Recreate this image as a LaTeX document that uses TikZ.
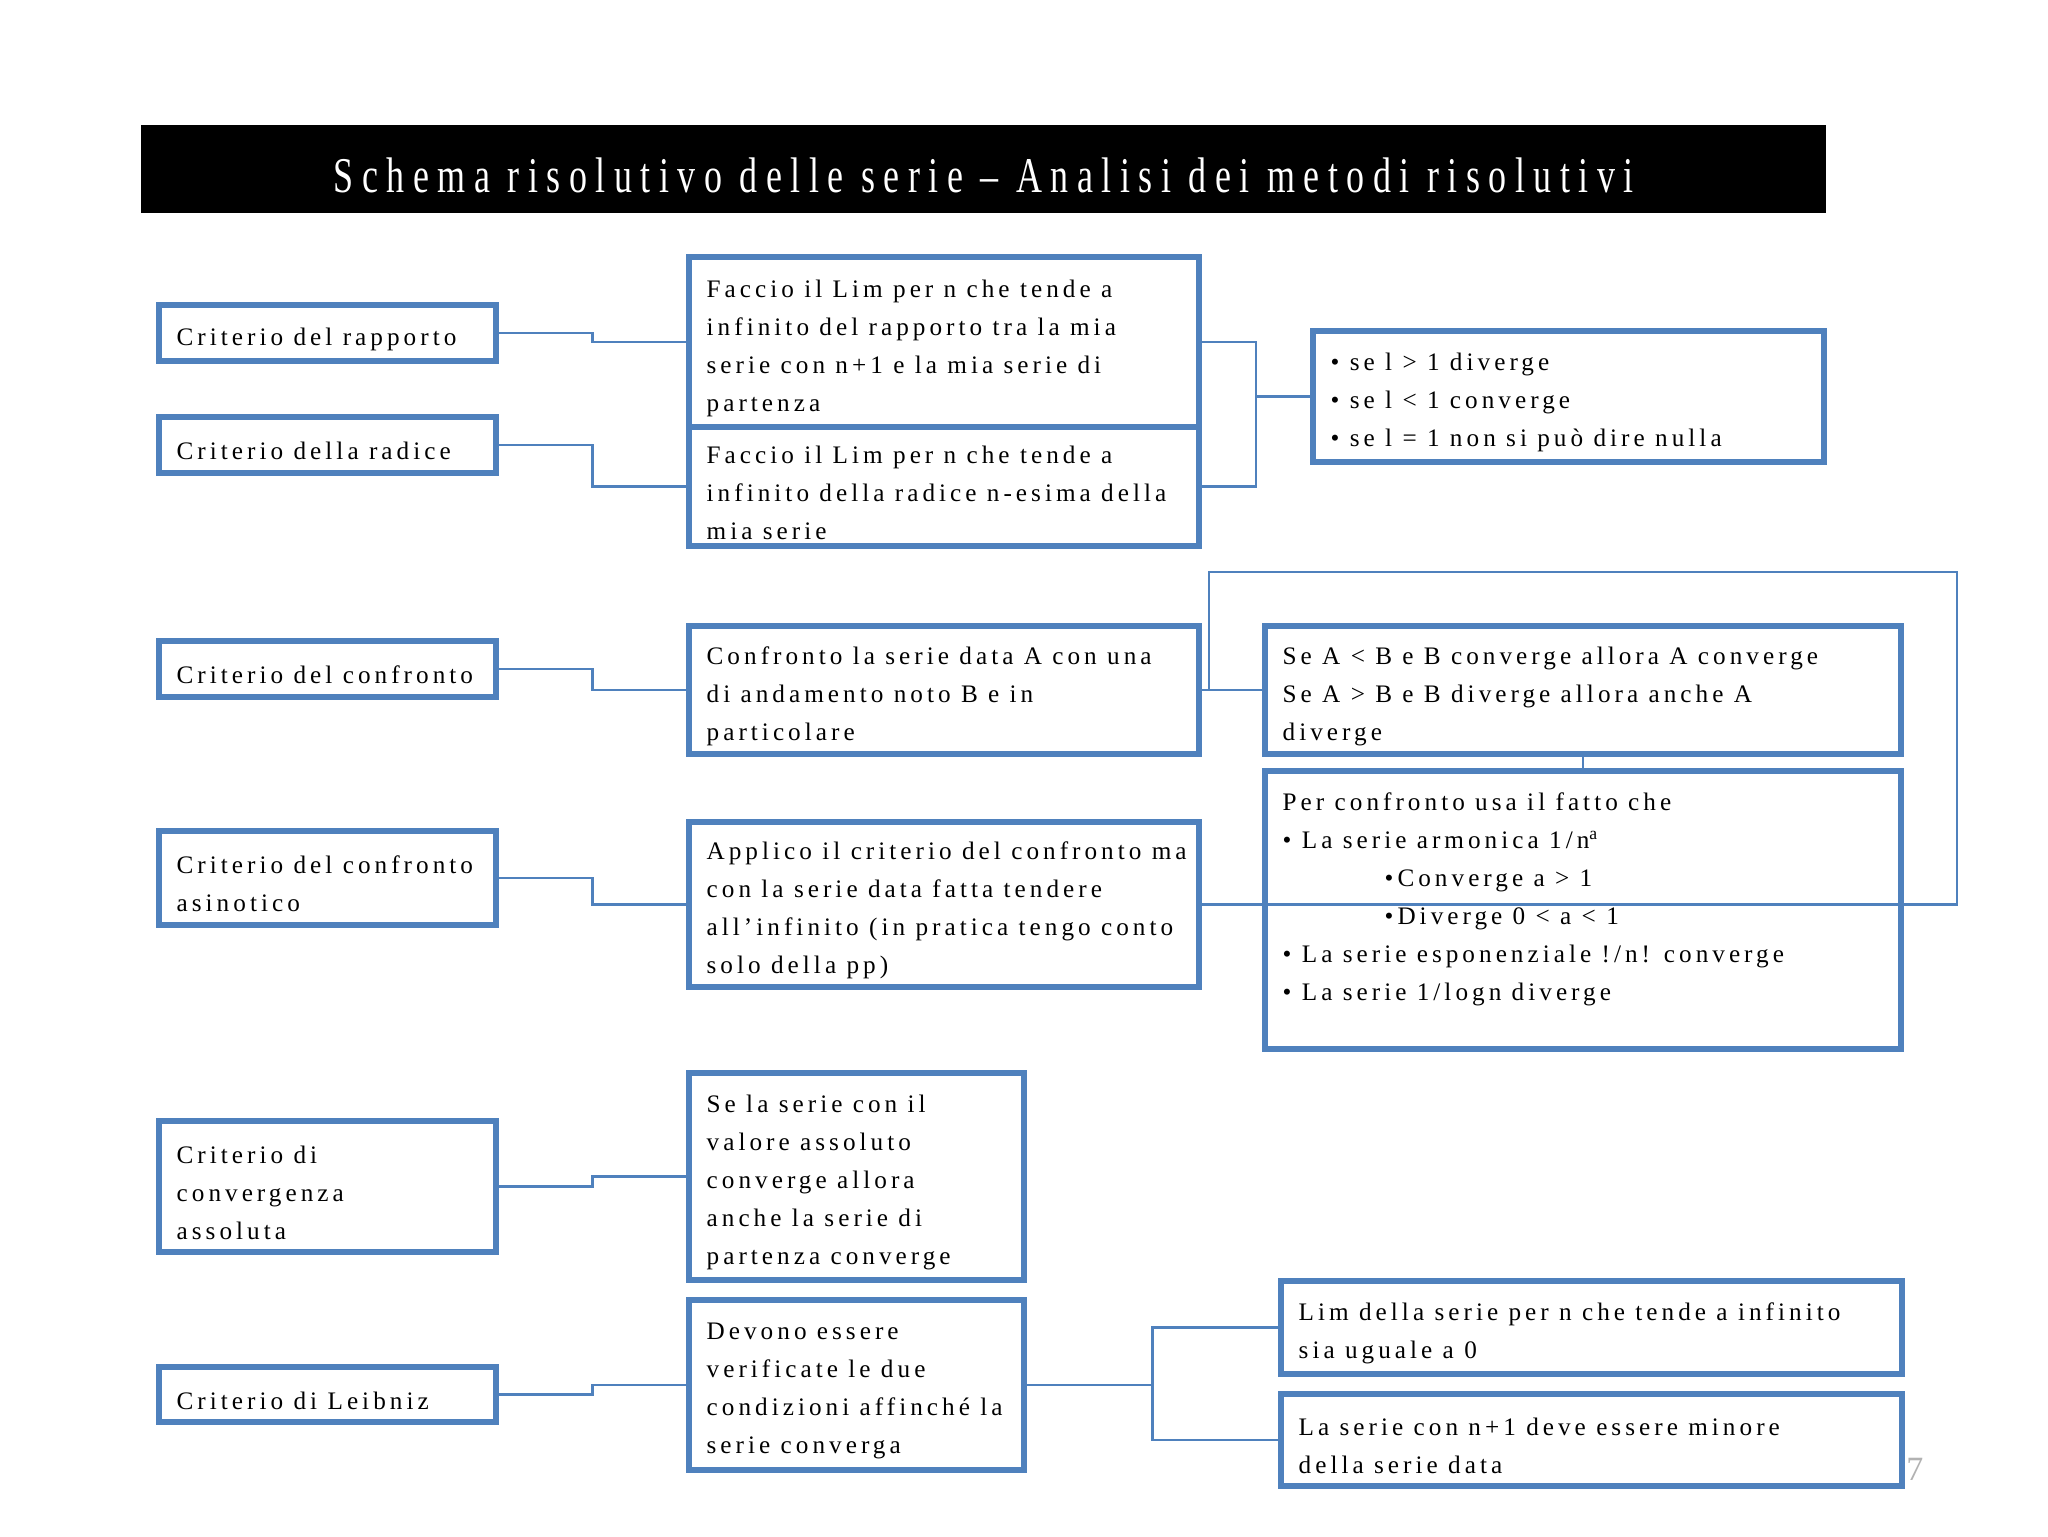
\documentclass[tikz,border=0pt]{standalone}
\usepackage{fontspec}
\usetikzlibrary{calc}
\setmainfont{Liberation Serif}[LetterSpace=16]
\newfontfamily\titlefont{Liberation Serif}[FakeStretch=0.72,LetterSpace=17]
\definecolor{boxblue}{HTML}{4F81BD}
\begin{document}
\begin{tikzpicture}[x=0.5pt,y=-0.5pt,
  box/.style={draw=boxblue,line width=2.75pt,inner sep=0pt},
  txt/.style={inner sep=0pt,align=left,anchor=west,font=\fontsize{12.6}{19}\selectfont},
  conn/.style={draw=boxblue,line width=1.2pt}]
\fill[white] (0,0) rectangle (2048,1536);
\useasboundingbox (0,0) rectangle (2048,1536);
% title
\node[fill=black,minimum width=842.5pt,minimum height=44pt,inner sep=0pt] (title) at (983.5,169) {};
\node[text=white,inner sep=0pt,font=\titlefont\fontsize{25}{30}\selectfont] (ttl) at ([yshift=-3pt]title.center) {Schema risolutivo delle serie – Analisi dei metodi risolutivi};
% page number
\node[text=gray!60,inner sep=0pt,anchor=base west,font=\fontsize{17}{20}\selectfont] (pg) at (1906,1480) {7};
% left column
\node[box,minimum width=168.5pt,minimum height=28pt] (rap) at (327.5,333) {};
\node[box,minimum width=168.5pt,minimum height=28pt] (rad) at (327.5,445) {};
\node[box,minimum width=168.5pt,minimum height=28pt] (con) at (327.5,669) {};
\node[box,minimum width=168.5pt,minimum height=47pt] (asi) at (327.5,878) {};
\node[box,minimum width=168.5pt,minimum height=65.5pt] (ass) at (327.5,1186.5) {};
\node[box,minimum width=168.5pt,minimum height=27.5pt] (lei) at (327.5,1394.5) {};
% middle column
\node[box,minimum width=255pt,minimum height=85pt] (fac1) at (944,342) {};
\node[box,minimum width=255pt,minimum height=59.5pt] (fac2) at (944,486.5) {};
\node[box,minimum width=255pt,minimum height=64pt] (conm) at (944,690) {};
\node[box,minimum width=255pt,minimum height=82.5pt] (app) at (944,904.5) {};
\node[box,minimum width=167.5pt,minimum height=103.5pt] (assm) at (856.5,1176.5) {};
\node[box,minimum width=167.5pt,minimum height=85pt] (dev) at (856.5,1385) {};
% right column
\node[box,minimum width=255.5pt,minimum height=65.5pt] (bul) at (1568.5,396.5) {};
\node[box,minimum width=318pt,minimum height=64pt] (sea) at (1583,690) {};
\node[box,minimum width=318pt,minimum height=139pt] (pc) at (1583,910) {};
\node[box,minimum width=310.5pt,minimum height=46.5pt] (lim) at (1591.5,1327.5) {};
\node[box,minimum width=310.5pt,minimum height=46pt] (las) at (1591.5,1440) {};
% connectors
\draw[conn] (rap.east) -| ($(rap.east)!0.5!(fac1.west)$) |- (fac1.west);
\draw[conn] (rad.east) -| ($(rad.east)!0.5!(fac2.west)$) |- (fac2.west);
\draw[conn] (con.east) -| ($(con.east)!0.5!(conm.west)$) |- (conm.west);
\draw[conn] (asi.east) -| ($(asi.east)!0.5!(app.west)$) |- (app.west);
\draw[conn] (ass.east) -| ($(ass.east)!0.5!(assm.west)$) |- (assm.west);
\draw[conn] (lei.east) -| ($(lei.east)!0.5!(dev.west)$) |- (dev.west);
\draw[conn] (fac1.east) -| ($(fac1.east)!0.5!(bul.west)$) |- (bul.west);
\draw[conn] (fac2.east) -| ($(fac2.east)!0.5!(bul.west)$) |- (bul.west);
\draw[conn] (conm.east) -- (sea.west);
\coordinate (lpA) at (1957,572);
\coordinate (lpB) at (1209,572);
\draw[conn] (app.east) -| (lpA) -- (lpB) -- (lpB |- sea.west);
\draw[conn] (sea.south) -- (pc.north);
\draw[conn] (dev.east) -| ($(dev.east)!0.5!(lim.west)$) |- (lim.west);
\draw[conn] (dev.east) -| ($(dev.east)!0.5!(las.west)$) |- (las.west);
% texts
\begin{scope}[every node/.append style={yshift=-3pt}]
\node[txt] (trap) at ([xshift=10pt]rap.west) {Criterio del rapporto};
\node[txt] (trad) at ([xshift=10pt]rad.west) {Criterio della radice};
\node[txt] (tcon) at ([xshift=10pt]con.west) {Criterio del confronto};
\node[txt] (tasi) at ([xshift=10pt]asi.west) {Criterio del confronto\\asinotico};
\node[txt] (tass) at ([xshift=10pt]ass.west) {Criterio di\\convergenza\\assoluta};
\node[txt] (tlei) at ([xshift=10pt]lei.west) {Criterio di Leibniz};
\node[txt] (tfac1) at ([xshift=10pt]fac1.west) {Faccio il Lim per n che tende a\\infinito del rapporto tra la mia\\serie con n+1 e la mia serie di\\partenza};
\node[txt] (tfac2) at ([xshift=10pt]fac2.west) {Faccio il Lim per n che tende a\\infinito della radice n-esima della\\mia serie};
\node[txt] (tconm) at ([xshift=10pt]conm.west) {Confronto la serie data A con una\\di andamento noto B e in\\particolare};
\node[txt] (tapp) at ([xshift=10pt]app.west) {Applico il criterio del confronto ma\\con la serie data fatta tendere\\all’infinito (in pratica tengo conto\\solo della pp)};
\node[txt] (tassm) at ([xshift=10pt]assm.west) {Se la serie con il\\valore assoluto\\converge allora\\anche la serie di\\partenza converge};
\node[txt] (tdev) at ([xshift=10pt]dev.west) {Devono essere\\verificate le due\\condizioni affinché la\\serie converga};
\node[txt] (tbul) at ([xshift=10pt]bul.west) {• se l > 1 diverge\\• se l < 1 converge\\• se l = 1 non si può dire nulla};
\node[txt] (tsea) at ([xshift=10pt]sea.west) {Se A < B e B converge allora A converge\\Se A > B e B diverge allora anche A\\diverge};
\node[txt,anchor=north west] (tpc) at ([xshift=10pt,yshift=-9pt]pc.north west) {Per confronto usa il fatto che\\• La serie armonica 1/n\textsuperscript{a}\\\hspace*{51pt}•Converge a > 1\\\hspace*{51pt}•Diverge 0 < a < 1\\• La serie esponenziale !/n! converge\\• La serie 1/logn diverge};
\node[txt] (tlim) at ([xshift=10pt]lim.west) {Lim della serie per n che tende a infinito\\sia uguale a 0};
\node[txt] (tlas) at ([xshift=10pt]las.west) {La serie con n+1 deve essere minore\\della serie data};
\end{scope}
\end{tikzpicture}
\end{document}
